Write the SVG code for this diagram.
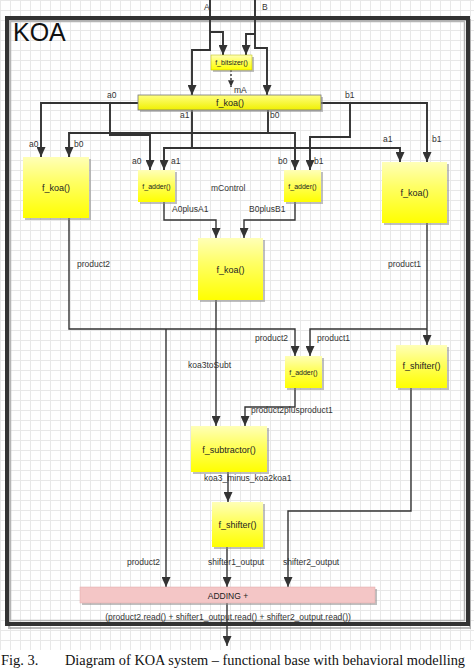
<svg xmlns="http://www.w3.org/2000/svg" width="474" height="672" viewBox="0 0 474 672">
<defs>
<pattern id="grid" width="10" height="10" patternUnits="userSpaceOnUse"><path d="M0.5,0 V10 M0,0.5 H10" fill="none" stroke="#e8e8e8" stroke-width="1"/></pattern>
<linearGradient id="yel" x1="0" y1="0" x2="0" y2="1"><stop offset="0" stop-color="#ffffb8"/><stop offset="0.4" stop-color="#ffff66"/><stop offset="1" stop-color="#ffff00"/></linearGradient>
<linearGradient id="bar" x1="0" y1="0" x2="0" y2="1"><stop offset="0" stop-color="#ffff80"/><stop offset="1" stop-color="#f0f000"/></linearGradient>
<marker id="ah" markerUnits="userSpaceOnUse" viewBox="0 0 10 9" markerWidth="10" markerHeight="9" refX="10" refY="4.5" orient="auto"><path d="M0,0 L10,4.5 L0,9 z" fill="#333"/></marker>
<marker id="ahs" markerUnits="userSpaceOnUse" viewBox="0 0 10 9" markerWidth="7" markerHeight="6" refX="10" refY="4.5" orient="auto"><path d="M0,0 L10,4.5 L0,9 z" fill="#333"/></marker>
</defs>
<style>
.c{fill:none;stroke:#333;stroke-width:1.4;marker-end:url(#ah)}
.t{stroke-width:1.9}
.lbl{font-family:"Liberation Sans",Arial,sans-serif;font-size:8.5px;fill:#333}
.box{fill:url(#yel)}
.sh{fill:#8a8a8a;opacity:0.55}
.nt{font-family:"Liberation Sans",Arial,sans-serif;fill:#222;text-anchor:middle}
</style>
<rect width="474" height="672" fill="#fff"/>
<rect width="474" height="650" fill="url(#grid)"/>

<g id="frame">
<rect x="9" y="20" width="461" height="608" fill="none" stroke="#777" stroke-width="2" opacity="0.5"/>
<rect x="7" y="18" width="461" height="606" fill="none" stroke="#333" stroke-width="4"/>
<rect x="10.5" y="21.5" width="454" height="599" fill="none" stroke="#b5b5b5" stroke-width="1.5"/>
<text x="13" y="41" font-family="Liberation Sans,Arial,sans-serif" font-size="25" fill="#111">KOA</text>
</g>

<g id="connectors">
<path class="c t" d="M210,0 V50 H192 V95"/>
<path class="c t" d="M210,32 H223 V55"/>
<path class="c t" d="M255,0 V48 H267 V95"/>
<path class="c t" d="M255,34 H246 V55"/>
<path class="c" d="M231,70 V87" stroke-dasharray="2,2" style="marker-end:url(#ahs)"/>
<path class="c t" d="M138,103 H41 V157"/>
<path class="c t" d="M110,103 V135 H150 V170"/>
<path class="c t" d="M268,110 V133 H69 V157"/>
<path class="c t" d="M268,133 H295 V170"/>
<path class="c t" d="M192,110 V148 H400 V162"/>
<path class="c t" d="M192,148 H164 V170"/>
<path class="c t" d="M321,103 H427 V162"/>
<path class="c t" d="M350,103 V137 H310 V170"/>
<path class="c" d="M164,202 V220 H216 V238"/>
<path class="c" d="M295,202 V220 H244 V238"/>
<path class="c" d="M69,218 V329 H295 V356"/>
<path class="c" d="M166,329 V587"/>
<path class="c" d="M216,300 V426"/>
<path class="c" d="M427,223 V345"/>
<path class="c" d="M427,329 H310 V356"/>
<path class="c" d="M295,388 V407 H245 V426"/>
<path class="c" d="M228,472 V502"/>
<path class="c" d="M227,547 V587"/>
<path class="c" d="M411,388 V511 H288 V587"/>
<path class="c" d="M227,603 V646"/>
<text class="lbl" x="204" y="10">A</text>
<text class="lbl" x="262" y="10">B</text>
<text class="lbl" x="234" y="93">mA</text>
<text class="lbl" x="107" y="98">a0</text>
<text class="lbl" x="180" y="118">a1</text>
<text class="lbl" x="270" y="118">b0</text>
<text class="lbl" x="345" y="98">b1</text>
<text class="lbl" x="29" y="147">a0</text>
<text class="lbl" x="74" y="147">b0</text>
<text class="lbl" x="132" y="164">a0</text>
<text class="lbl" x="171" y="164">a1</text>
<text class="lbl" x="278" y="164">b0</text>
<text class="lbl" x="314" y="164">b1</text>
<text class="lbl" x="383" y="142">a1</text>
<text class="lbl" x="432" y="142">b1</text>
<text class="lbl" x="211" y="191">mControl</text>
<text class="lbl" x="172" y="212">A0plusA1</text>
<text class="lbl" x="249" y="212">B0plusB1</text>
<text class="lbl" x="77" y="267">product2</text>
<text class="lbl" x="388" y="267">product1</text>
<text class="lbl" x="255" y="341">product2</text>
<text class="lbl" x="317" y="341">product1</text>
<text class="lbl" x="188" y="368">koa3toSubt</text>
<text class="lbl" x="251" y="413">product2plusproduct1</text>
<text class="lbl" x="204" y="481">koa3_minus_koa2koa1</text>
<text class="lbl" x="127" y="565">product2</text>
<text class="lbl" x="208" y="565">shifter1_output</text>
<text class="lbl" x="283" y="565">shifter2_output</text>
<text class="lbl" x="228" y="620" text-anchor="middle">(product2.read() + shifter1_output.read() + shifter2_output.read())</text>
</g>

<g id="f_bitsizer">
<rect class="sh" x="213" y="57" width="41" height="15"/>
<rect class="box" x="211" y="55" width="41" height="15" stroke="#b8b800" stroke-width="0.5"/>
<text class="nt" x="231.5" y="65" font-size="7">f_bitsizer()</text>
</g>
<g id="f_koa_top">
<rect class="sh" x="140" y="97" width="183" height="15"/>
<rect x="138" y="95" width="183" height="15" fill="url(#bar)" stroke="#777" stroke-width="0.8"/>
<text class="nt" x="230" y="106" font-size="9">f_koa()</text>
</g>
<g id="f_koa_left">
<rect class="sh" x="25" y="159" width="66" height="61"/>
<rect class="box" x="23" y="157" width="66" height="61"/>
<text class="nt" x="56" y="191" font-size="9">f_koa()</text>
</g>
<g id="f_adder1">
<rect class="sh" x="140" y="172" width="37" height="32"/>
<rect class="box" x="138" y="170" width="37" height="32"/>
<text class="nt" x="156.5" y="189" font-size="7">f_adder()</text>
</g>
<g id="f_adder2">
<rect class="sh" x="286" y="172" width="37" height="32"/>
<rect class="box" x="284" y="170" width="37" height="32"/>
<text class="nt" x="302.5" y="189" font-size="7">f_adder()</text>
</g>
<g id="f_koa_right">
<rect class="sh" x="384" y="164" width="65" height="61"/>
<rect class="box" x="382" y="162" width="65" height="61"/>
<text class="nt" x="414.5" y="196" font-size="9">f_koa()</text>
</g>
<g id="f_koa_mid">
<rect class="sh" x="200" y="240" width="65" height="62"/>
<rect class="box" x="198" y="238" width="65" height="62"/>
<text class="nt" x="230.5" y="273" font-size="9">f_koa()</text>
</g>
<g id="f_adder3">
<rect class="sh" x="287" y="358" width="37" height="32"/>
<rect class="box" x="285" y="356" width="37" height="32"/>
<text class="nt" x="303.5" y="375" font-size="7">f_adder()</text>
</g>
<g id="f_shifter2">
<rect class="sh" x="398" y="347" width="51" height="43"/>
<rect class="box" x="396" y="345" width="51" height="43"/>
<text class="nt" x="421.5" y="369" font-size="9">f_shifter()</text>
</g>
<g id="f_subtractor">
<rect class="sh" x="193" y="428" width="76" height="46"/>
<rect class="box" x="191" y="426" width="76" height="46"/>
<text class="nt" x="229" y="453" font-size="9">f_subtractor()</text>
</g>
<g id="f_shifter1">
<rect class="sh" x="214" y="504" width="51" height="45"/>
<rect class="box" x="212" y="502" width="51" height="45"/>
<text class="nt" x="237.5" y="528" font-size="9">f_shifter()</text>
</g>
<g id="adding">
<rect class="sh" x="82" y="589" width="295" height="16"/>
<rect x="80" y="587" width="295" height="16" fill="#f4c6c6" stroke="#e0a8a8" stroke-width="0.5"/>
<text class="nt" x="228" y="598.5" font-size="8.5">ADDING  +</text>
</g>

<g id="caption">
<text x="1" y="665" font-family="Liberation Serif,Times New Roman,serif" font-size="14.5" fill="#111">Fig. 3.</text>
<text x="65" y="665" font-family="Liberation Serif,Times New Roman,serif" font-size="14.5" fill="#111" textLength="400" lengthAdjust="spacingAndGlyphs">Diagram of KOA system – functional base with behavioral modelling</text>
</g>
</svg>
